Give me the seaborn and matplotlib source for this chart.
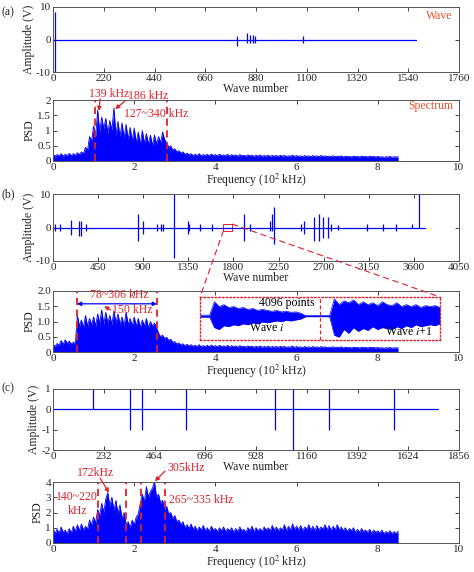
import numpy as np
import seaborn as sns
import matplotlib
matplotlib.use('Agg')
import matplotlib.pyplot as plt
from matplotlib.patches import Rectangle, ConnectionPatch

# ---------------- data ----------------
# wave panels: baseline end, spike positions, spike top / bottom
wave_a_end = 1573
wave_a_pos = [9, 797, 843, 855, 866, 877, 1083]
wave_a_hi = [8.6, 1.1, 2.0, 1.5, 1.5, 1.2, 1.0]
wave_a_lo = [-10, -2.0, -1.0, -1.0, -1.0, -1.0, -1.0]

wave_b_end = 3710
wave_b_pos = [15, 70, 176, 260, 280, 330, 850, 895, 1035, 1075, 1100, 1210, 1345, 1360,
              1465, 1590, 1910, 1965, 2160, 2180, 2200, 2475, 2505, 2600, 2650, 2690,
              2740, 2775, 2840, 3130, 3290, 3420, 3580, 3650]
wave_b_hi = [1, 1, 2.2, 2, 2, 1, 4, 2, 1, 1, 1, 10, 2, 1,
             1, 1, 4, 1, 2, 4, 6, 1, 2, 3, 4, 3,
             3, 1, 0.8, 1, 1, 1, 1, 10]
wave_b_lo = [-1, -1, -2.3, -2.5, -2.5, -1, -4, -2, -1, -1, -1, -9.2, -2, -1,
             -1, -1, -4, -1, -1, -1, -5, -1, -2, -4, -4, -3,
             -3, -1, -0.8, -1, -1, -1, 0, 0]

wave_c_end = 1760
wave_c_pos = [183, 352, 406, 608, 1015, 1096, 1262, 1560]
wave_c_hi = [1, 1, 1, 1, 1, 1, 1, 1]
wave_c_lo = [0, -1, -1, -1, -1, -2, -1, -1]

# spectra, one value every 0.05 (10^2 kHz) from 0 to 8.5
psd_tail = [0.22, 0.18, 0.24, 0.17, 0.21, 0.18, 0.22, 0.17, 0.23, 0.18,
            0.21, 0.17, 0.22, 0.18, 0.20, 0.17, 0.22, 0.16, 0.21, 0.17,
            0.20, 0.16, 0.21, 0.17, 0.19, 0.16, 0.20, 0.17, 0.19, 0.15,
            0.19, 0.16, 0.20, 0.15, 0.18, 0.16, 0.19, 0.15, 0.18, 0.16,
            0.18, 0.15, 0.19, 0.16, 0.18, 0.15, 0.17, 0.16, 0.19, 0.15,
            0.18, 0.15, 0.17, 0.14, 0.18, 0.15, 0.17, 0.14, 0.18, 0.15,
            0.17, 0.14, 0.18, 0.15, 0.17, 0.14, 0.16, 0.15, 0.17, 0.14,
            0.16, 0.14, 0.17, 0.13, 0.16, 0.14, 0.15, 0.13, 0.16, 0.14,
            0.15, 0.13, 0.16, 0.14, 0.15, 0.13, 0.16, 0.14, 0.15, 0.13,
            0.15, 0.13, 0.14, 0.12, 0.14, 0.13, 0.15, 0.12, 0.14, 0.13, 0.14]

psd_a = [0.22, 0.16, 0.21, 0.17, 0.24, 0.16, 0.22, 0.18, 0.25, 0.17,
         0.24, 0.19, 0.27, 0.21, 0.30, 0.24, 0.45, 0.35, 0.80, 0.65,
         1.15, 0.80, 1.67, 0.95, 1.44, 1.05, 1.40, 0.90, 1.33, 1.00,
         1.74, 0.85, 1.30, 0.80, 1.25, 0.75, 1.20, 0.70, 1.10, 0.65,
         1.08, 0.60, 0.95, 0.55, 1.00, 0.58, 0.90, 0.55, 0.85, 0.50,
         0.85, 0.55, 0.80, 0.60, 0.95, 0.70, 0.60, 0.45, 0.50, 0.36,
         0.40, 0.30, 0.34, 0.26, 0.30, 0.22, 0.26, 0.20, 0.24, 0.18] + psd_tail

psd_b = [0.25, 0.18, 0.28, 0.22, 0.38, 0.25, 0.40, 0.28, 0.36, 0.26,
         0.32, 0.26, 1.20, 0.85, 1.05, 0.80, 1.20, 0.85, 1.10, 0.90,
         1.15, 0.85, 1.25, 0.95, 1.38, 0.90, 1.30, 0.95, 1.20, 0.90,
         1.35, 0.95, 1.25, 0.90, 1.15, 0.85, 1.30, 0.90, 1.10, 0.85,
         1.15, 0.85, 1.10, 0.80, 1.05, 0.85, 1.10, 0.80, 1.00, 0.85,
         0.95, 0.80, 0.62, 0.50, 0.55, 0.45, 0.48, 0.38, 0.42, 0.32,
         0.34, 0.26, 0.30, 0.23, 0.27, 0.21, 0.25, 0.20, 0.24, 0.19] + psd_tail

psd_c = [1.00, 0.60, 0.90, 0.65, 1.05, 0.70, 0.85, 0.60, 0.95, 0.65,
         1.10, 0.75, 1.20, 0.80, 1.25, 0.85, 1.10, 0.90, 1.50, 1.20,
         1.70, 1.30, 2.20, 1.80, 2.60, 2.00, 2.90, 3.30, 2.40, 3.00,
         2.10, 2.80, 1.90, 2.50, 1.60, 2.00, 1.20, 1.40, 1.00, 1.50,
         1.20, 1.70, 1.90, 2.60, 3.20, 2.70, 3.70, 3.00, 3.40, 3.60,
         4.00, 3.00, 3.20, 2.60, 2.80, 2.20, 2.40, 1.90, 2.00, 1.60,
         1.80, 1.40, 1.50, 1.20, 1.40, 1.00, 1.20, 0.95, 1.25, 0.90,
         1.10, 0.80, 1.05, 0.85, 1.15, 0.80, 1.00, 0.75, 1.10, 0.85,
         0.95, 0.75, 1.00, 0.80, 1.05, 0.75, 0.95, 0.80, 1.00, 0.70,
         0.95, 0.75, 1.05, 0.80, 0.90, 0.70, 1.00, 0.80, 1.10, 0.75,
         1.00, 0.80, 0.95, 0.75, 1.05, 0.85, 1.00, 0.80, 1.15, 0.85,
         1.05, 0.80, 1.00, 0.85, 1.20, 0.80, 1.10, 0.85, 1.25, 0.90,
         1.10, 0.85, 1.15, 0.80, 1.05, 0.90, 1.20, 0.85, 1.10, 0.80,
         1.15, 0.85, 1.05, 0.90, 1.20, 0.85, 1.15, 0.80, 1.10, 0.85,
         1.20, 0.85, 1.05, 0.80, 1.00, 0.75, 0.95, 0.80, 1.00, 0.70,
         0.90, 0.70, 0.95, 0.75, 0.85, 0.70, 0.90, 0.65, 0.85, 0.70,
         0.80, 0.65, 0.85, 0.60, 0.75, 0.65, 0.80, 0.60, 0.75, 0.62, 0.78]

# inset waveform envelope (two consecutive waves), x in 0..100
inset_x = list(range(0, 101, 2))
inset_hi = [0.05, 0.05, 0.05, 0.75, 0.5, 0.6, 0.45, 0.5, 0.4, 0.45, 0.35, 0.4, 0.3,
            0.35, 0.3, 0.25, 0.3, 0.22, 0.25, 0.2, 0.22, 0.15, 0.03, 0.03, 0.03, 0.03,
            0.03, 0.03, 0.9, 0.6, 0.8, 0.7, 0.85, 0.6, 0.75, 0.6, 0.7, 0.55, 0.75,
            0.6, 0.55, 0.7, 0.5, 0.6, 0.5, 0.6, 0.45, 0.55, 0.5, 0.55, 0.45]
inset_lo = [-0.05, -0.05, -0.05, -0.6, -0.7, -0.5, -0.55, -0.45, -0.5, -0.4, -0.45, -0.35, -0.4,
            -0.3, -0.35, -0.3, -0.25, -0.28, -0.22, -0.25, -0.2, -0.15, -0.03, -0.03, -0.03, -0.03,
            -0.03, -0.03, -1.0, -1.1, -0.7, -0.9, -0.6, -0.8, -0.65, -0.75, -0.55, -0.7, -0.6,
            -0.65, -0.7, -0.55, -0.65, -0.5, -0.6, -0.45, -0.55, -0.5, -0.45, -0.5, -0.4]

# ---------------- style ----------------
sns.set_theme(style='ticks')
plt.rcParams['font.family'] = ['Liberation Serif', 'DejaVu Serif']
plt.rcParams['mathtext.fontset'] = 'stix'
plt.rcParams['axes.unicode_minus'] = False
plt.rcParams.update({
    'xtick.direction': 'in', 'ytick.direction': 'in',
    'xtick.top': True, 'ytick.right': True,
    'xtick.major.size': 3, 'ytick.major.size': 3,
    'xtick.major.width': 0.6, 'ytick.major.width': 0.6,
    'xtick.major.pad': 1.5, 'ytick.major.pad': 1.5,
    'xtick.labelsize': 8, 'ytick.labelsize': 8,
    'axes.labelsize': 8.5, 'axes.linewidth': 0.7,
    'axes.edgecolor': '#555555',
})

RED = '#e0202a'
ORANGE = '#e8552e'
BLUE = '#0000ff'

W, H = 474, 572
fig = plt.figure(figsize=(W / 100, H / 100), dpi=100)


def px_axes(top, bottom, left=53, right=459):
    return fig.add_axes([left / W, 1 - bottom / H, (right - left) / W, (bottom - top) / H])


def draw_wave(ax, end, pos, hi, lo, xmax, xstep, ylim, yticks):
    sns.lineplot(x=[0, end], y=[0, 0], ax=ax, color=BLUE, lw=0.9)
    ax.vlines(pos, lo, hi, color=BLUE, lw=0.9)
    ticks = np.arange(0, xmax + 1, xstep)
    ax.set_xlim(0, xmax)
    ax.set_xticks(ticks)
    ax.set_xticklabels([f'{v:.0f}' for v in ticks])
    ax.set_ylim(*ylim)
    ax.set_yticks(yticks)
    ax.set_xlabel('Wave number', labelpad=0)
    ax.set_ylabel('Amplitude (V)', labelpad=1)


def draw_psd(ax, psd, ymax, yticks, yticklabels):
    freq = np.arange(len(psd)) * 0.05
    ax.fill_between(freq, 0, psd, color=BLUE, lw=0)
    sns.lineplot(x=freq, y=psd, ax=ax, color=BLUE, lw=0.6)
    ax.set_xlim(0, 10)
    ax.set_xticks([0, 2, 4, 6, 8, 10])
    ax.set_ylim(0, ymax)
    ax.set_yticks(yticks)
    ax.set_yticklabels(yticklabels)
    ax.set_xlabel('Frequency (10$^2$ kHz)', labelpad=0)
    ax.set_ylabel('PSD', labelpad=1)


def dashed(ax, xs):
    for x in xs:
        ax.axvline(x, color=RED, lw=1.3, ls=(0, (4, 2.5)))


def arrow(ax, start, end, color=RED):
    ax.annotate('', xy=end, xytext=start, annotation_clip=False,
                arrowprops=dict(arrowstyle='-|>', color=color, lw=0.9,
                                mutation_scale=6, shrinkA=0, shrinkB=0))


tkw = dict(color=RED, fontsize=8.5, ha='center', va='center', clip_on=False)

# ---------------- (a) ----------------
ax_a1 = px_axes(7, 72)
draw_wave(ax_a1, wave_a_end, wave_a_pos, wave_a_hi, wave_a_lo, 1760, 220, (-10, 10), [-10, 0, 10])
ax_a1.text(0.985, 0.86, 'Wave', transform=ax_a1.transAxes, color=ORANGE,
           fontsize=8.5, ha='right', va='center')

ax_a2 = px_axes(100, 161)
draw_psd(ax_a2, psd_a, 2, [0, 0.5, 1, 1.5, 2], ['0', '0.5', '1', '1.5', '2'])
dashed(ax_a2, [1.03, 2.81])
ax_a2.text(1.38, 2.2, '139 kHz', **tkw)
ax_a2.text(2.34, 2.13, '186 kHz', **tkw)
ax_a2.text(2.54, 1.54, '127~340 kHz', **tkw)
arrow(ax_a2, (1.16, 2.04), (1.13, 1.64))
arrow(ax_a2, (1.78, 1.97), (1.53, 1.70))
ax_a2.text(0.985, 0.9, 'Spectrum', transform=ax_a2.transAxes, color=ORANGE,
           fontsize=8.5, ha='right', va='center')

# ---------------- (b) ----------------
ax_b1 = px_axes(194, 261)
draw_wave(ax_b1, wave_b_end, wave_b_pos, wave_b_hi, wave_b_lo, 4050, 450, (-10, 10), [-10, 0, 10])
ax_b1.add_patch(Rectangle((1700, -1), 90, 2, fill=False, edgecolor=RED, lw=0.7))

ax_b2 = px_axes(291, 352)
draw_psd(ax_b2, psd_b, 2, [0, 0.5, 1, 1.5, 2], ['0', '0.5', '1.0', '1.5', '2.0'])
dashed(ax_b2, [0.59, 2.56])
ax_b2.annotate('', xy=(0.59, 1.58), xytext=(2.56, 1.58),
               arrowprops=dict(arrowstyle='<|-|>', color=BLUE, lw=0.9,
                               mutation_scale=6, shrinkA=0, shrinkB=0))
ax_b2.text(1.63, 1.86, '78~306 kHz', **tkw)
ax_b2.text(1.95, 1.38, '150 kHz', **tkw)
arrow(ax_b2, (1.42, 1.38), (1.26, 1.50))

# inset with two consecutive waves
ax_in = fig.add_axes([200 / W, 1 - 340 / H, 240 / W, 43 / H])
ax_in.set_facecolor('none')
ax_in.fill_between(inset_x, inset_lo, inset_hi, color=BLUE, lw=0)
sns.lineplot(x=inset_x, y=inset_hi, ax=ax_in, color=BLUE, lw=0.5)
sns.lineplot(x=inset_x, y=inset_lo, ax=ax_in, color=BLUE, lw=0.5)
ax_in.set_xlim(0, 100)
ax_in.set_ylim(-1.25, 1.0)
ax_in.set_xticks([])
ax_in.set_yticks([])
ax_in.set_xlabel('')
ax_in.set_ylabel('')
for s in ax_in.spines.values():
    s.set_color(RED)
    s.set_linestyle(':')
    s.set_linewidth(1.0)
ax_in.axvline(50, color=RED, lw=0.9, ls=(0, (3, 2)))
ax_in.text(36, 0.66, '4096 points', color='black', fontsize=8.5, ha='center', va='center')
ax_in.text(28, -0.6, 'Wave $i$', color='black', fontsize=8.5, ha='center', va='center')
ax_in.text(87, -0.82, 'Wave $i$+1', color='black', fontsize=8.5, ha='center', va='center')

for xyA, xyB in [((1700, -1), (0, 1)), ((1790, 1), (1, 1))]:
    con = ConnectionPatch(xyA=xyA, coordsA=ax_b1.transData, xyB=xyB,
                          coordsB=ax_in.transAxes, color=RED, lw=0.8,
                          ls=(0, (5, 4)))
    fig.add_artist(con)

# ---------------- (c) ----------------
ax_c1 = px_axes(389, 450)
draw_wave(ax_c1, wave_c_end, wave_c_pos, wave_c_hi, wave_c_lo, 1856, 232, (-2, 1), [-2, -1, 0, 1])

ax_c2 = px_axes(482, 543)
draw_psd(ax_c2, psd_c, 4, [0, 1, 2, 3, 4], ['0', '1', '2', '3', '4'])
dashed(ax_c2, [1.10, 1.80, 2.17, 2.76])
ax_c2.text(0.6, 2.56, '140~220\nkHz', linespacing=1.3, **tkw)
ax_c2.text(3.65, 2.82, '265~335 kHz', **tkw)
ax_c2.text(1.06, 4.59, '172kHz', **tkw)
ax_c2.text(3.28, 4.92, '305kHz', **tkw)
arrow(ax_c2, (1.16, 4.26), (1.38, 3.30))
arrow(ax_c2, (2.76, 4.72), (2.51, 4.05))

# panel labels
for lab, y in [('(a)', 12), ('(b)', 194), ('(c)', 388)]:
    fig.text(1 / W, 1 - y / H, lab, fontsize=8.5, ha='left', va='center')

fig.savefig('out.png', dpi=100)
